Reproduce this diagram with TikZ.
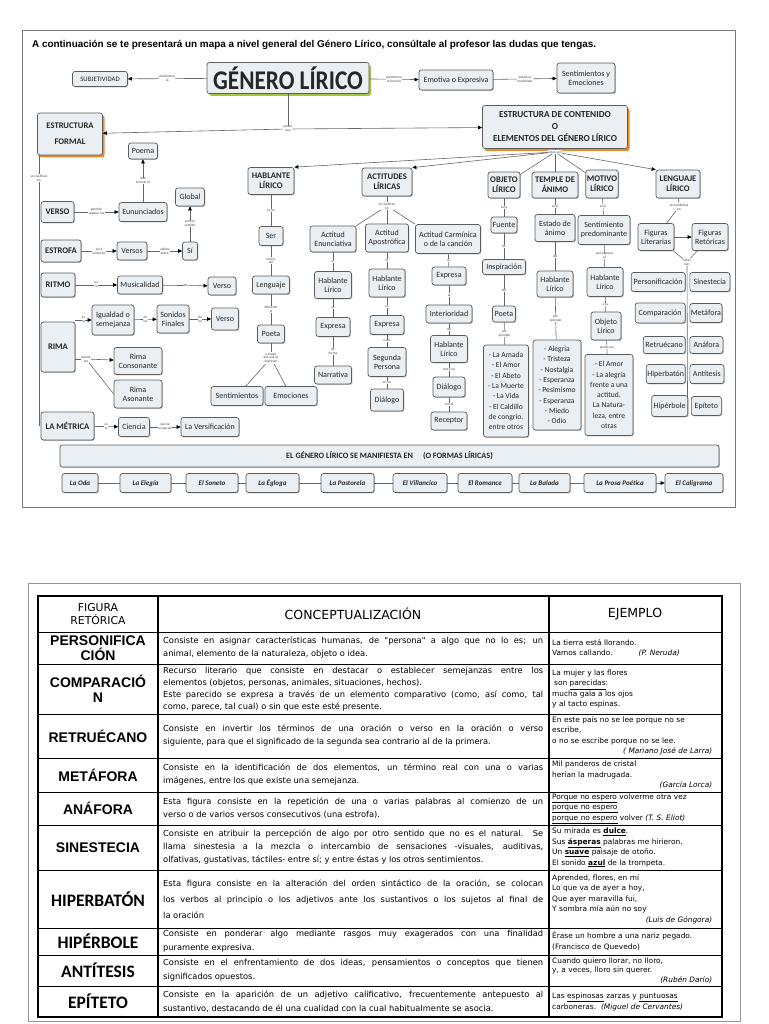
\documentclass[tikz,border=0pt]{standalone}
\usepackage{fontspec}
\setmainfont{Carlito}
\newfontfamily\arialf{Liberation Sans}
\newfontfamily\comicf{DejaVu Sans}
\usepackage{graphicx}
\usepackage{xcolor}
\usepackage{tikz}
\usetikzlibrary{arrows.meta,positioning,shadows}

\definecolor{cfill}{HTML}{E9EFF3}
\definecolor{cline}{HTML}{5C5C5C}
\definecolor{greensh}{HTML}{A3C63C}
\definecolor{orangesh}{HTML}{EE8A2A}
\definecolor{framec}{HTML}{7A7A7A}

\begin{document}
\begin{tikzpicture}[
  x=1pt, y=-1pt,
  sz/.style 2 args={minimum width=#1pt, minimum height=#2pt},
  box/.style={draw=cline, fill=cfill, rounded corners=2.5pt, line width=0.7pt, align=center, inner sep=1pt, text=black!85, font=\fontsize{8}{9}\selectfont},
  concept/.style={box, drop shadow={shadow xshift=0.9pt, shadow yshift=-0.9pt, fill=black!45, opacity=0.6}},
  head/.style={concept, font=\bfseries\fontsize{8.6}{10}\selectfont},
  lista/.style={concept, font=\fontsize{7.6}{10.3}\selectfont},
  form/.style={concept, minimum height=19pt, text height=5.5pt, text depth=1.5pt, font=\bfseries\itshape\fontsize{7}{8}\selectfont},
  lbl/.style={fill=white, inner sep=0.4pt, align=center, text=black!75, font=\fontsize{3.5}{3.9}\selectfont},
  lnk/.style={draw=black!60, line width=0.6pt},
  arr/.style={lnk, -{Triangle[length=4pt, width=3.6pt, color=black]}},
  figname/.style={inner sep=0pt, align=center, font=\arialf\bfseries\fontsize{14}{15}\selectfont},
  figname2/.style={inner sep=0pt, align=center, font=\bfseries\fontsize{17.5}{18}\selectfont},
  defn/.style={anchor=west, inner sep=0pt, text width=380pt, align=justify, font=\comicf\fontsize{8.3}{13}\selectfont},
  ejem/.style={anchor=west, inner sep=0pt, text width=166pt, align=left, font=\comicf\fontsize{7.4}{10.5}\selectfont},
  thead/.style={inner sep=0pt, align=center, font=\comicf\fontsize{12.5}{13}\selectfont}
]
\useasboundingbox (0,0) rectangle (768,1024);

% ---------------- mapa ----------------
\draw[framec, line width=0.8pt] (22,30) rectangle (735,507);
\node[anchor=west, inner sep=0pt, font=\arialf\bfseries\fontsize{9.9}{11}\selectfont] (titulo) at (32,45) {A continuación se te presentará un mapa a nivel general del Género Lírico, consúltale al profesor las dudas que tengas.};

\node[box, sz={162}{31}, drop shadow={shadow xshift=2pt, shadow yshift=-2.5pt, fill=greensh, opacity=1}] (genero) at (288,78) {\scalebox{0.86}[1]{\bfseries\fontsize{27}{27}\selectfont GÉNERO LÍRICO}};
\node[concept, sz={55}{15}, font=\fontsize{6.8}{7}\selectfont] (subj) at (100,79) {SUBJETIVIDAD};
\node[concept, sz={74}{20}] (emotiva) at (456,80) {Emotiva o Expresiva};
\node[concept, sz={58}{30}] (sentemo) at (586,78) {Sentimientos y\\Emociones};
\draw[arr] (genero) -- node[lbl] (lpred) {predomina\\la} (subj);
\draw[arr] (genero) -- node[lbl] (lfuncion) {predomina\\la función} (emotiva);
\draw[arr] (emotiva) -- node[lbl] (lmanif) {puede se\\manifestar} (sentemo);

\node[box, sz={65}{42}, font=\bfseries\fontsize{8.6}{9}\selectfont, drop shadow={shadow xshift=2pt, shadow yshift=-2.5pt, fill=orangesh, opacity=1}] (formal) at (70,134) {ESTRUCTURA\\[7pt]FORMAL};
\node[box, sz={145}{43}, font=\bfseries\fontsize{9.2}{12}\selectfont, drop shadow={shadow xshift=2pt, shadow yshift=-2.5pt, fill=orangesh, opacity=1}] (contenido) at (555,127) {ESTRUCTURA DE CONTENIDO\\O\\ELEMENTOS DEL GÉNERO LÍRICO};
\node[lbl] (posee) at (288,129) {posee\\una};
\draw[lnk] (genero) -- (posee);
\draw[arr] (posee) -- (formal);
\draw[arr] (posee) -- (contenido);

% estructura formal
\node[lbl] (lclasif) at (39,178) {se clasifican\\en};
\coordinate (troncofin) at (39,426);
\draw[lnk] (formal.south -| lclasif) -- (lclasif) -- (troncofin);

\node[head, sz={33}{21}] (verso) at (57.5,212) {VERSO};
\node[concept, sz={48}{19}] (eun) at (143,212) {Eununciados};
\node[concept, sz={29}{16}] (poema) at (143,151) {Poema};
\node[head, sz={40}{22}] (estrofa) at (61,251) {ESTROFA};
\node[concept, sz={30}{18}] (versos) at (132,251) {Versos};
\node[concept, sz={15}{18}] (si) at (190,251) {Sí};
\node[concept, sz={29}{18}] (global) at (190,197) {Global};
\node[head, sz={34}{24}] (ritmo) at (58,285) {RITMO};
\node[concept, sz={45}{18}] (musical) at (140,285) {Musicalidad};
\node[concept, sz={28}{18}] (versob) at (222,286) {Verso};
\node[head, sz={34}{50}] (rima) at (58,347) {RIMA};
\node[concept, sz={42}{30}] (igual) at (113,320) {Igualdad o\\semejanza};
\node[concept, sz={32}{28}] (sonidos) at (173,319) {Sonidos\\Finales};
\node[concept, sz={27}{22}] (versoc) at (225,319) {Verso};
\node[concept, sz={48}{27}] (consonante) at (138,361) {Rima\\Consonante};
\node[concept, sz={48}{28}] (asonante) at (138,394) {Rima\\Asonante};
\node[head, sz={53}{28}] (metrica) at (67.5,426) {LA MÉTRICA};
\node[concept, sz={31}{19}] (ciencia) at (134,427) {Ciencia};
\node[concept, sz={58}{19}] (versif) at (210,427) {La Versificación};

\draw[arr] (verso) -- node[lbl] (lsepara) {permite\\separar los} (eun);
\draw[arr] (eun) -- node[lbl] (lforman) {que\\forman el} (poema);
\draw[arr] (estrofa) -- node[lbl] (lunion) {es la\\unión de} (versos);
\draw[arr] (versos) -- node[lbl] (lunidos) {unidos\\entre} (si);
\draw[arr] (si) -- node[lbl] (lsentido) {por un\\sentido} (global);
\draw[arr] (ritmo) -- node[lbl] (lritmo) {es\\la} (musical);
\draw[arr] (musical) -- node[lbl] (ldel) {del} (versob);
\draw[arr] (igual.west -| rima.east) -- node[lbl] (lrima) {es\\la} (igual);
\draw[arr] (igual) -- node[lbl] (llos) {de\\los} (sonidos);
\draw[arr] (sonidos) -- node[lbl] (lun) {de\\un} (versoc);
\node[lbl] (lpuede) at (86,359) {puede\\ser};
\draw[lnk] (lpuede -| rima.east) -- (lpuede);
\draw[arr] (lpuede) -- (consonante);
\draw[lnk] (lpuede) -- (asonante.west);
\draw[arr] (metrica) -- node[lbl] (lmetrica) {es\\la} (ciencia);
\draw[arr] (ciencia) -- node[lbl] (locupa) {que se\\ocupa de} (versif);

% elementos del genero lirico
\node[head, sz={46}{27}] (hablante) at (271,181) {HABLANTE\\LÍRICO};
\node[head, sz={50}{28}] (actitudes) at (387,182) {ACTITUDES\\LÍRICAS};
\node[head, sz={32}{26}] (objeto) at (504,185) {OBJETO\\LÍRICO};
\node[head, sz={46}{26}] (temple) at (555,185) {TEMPLE DE\\ÁNIMO};
\node[head, sz={32}{28}] (motivo) at (602,184) {MOTIVO\\LÍRICO};
\node[head, sz={44}{28}] (lenguajel) at (678,184) {LENGUAJE\\LÍRICO};
\node[lbl] (lestos) at (555,152) {estos son};
\draw[lnk] (contenido) -- (lestos);
\draw[arr] (lestos) -- (hablante.north east);
\draw[arr] (lestos) -- (actitudes.north east);
\draw[lnk] (lestos) -- (objeto);
\draw[lnk] (lestos) -- (temple);
\draw[lnk] (lestos) -- (motivo);
\draw[arr] (lestos) -- (lenguajel.north west);

% hablante lirico
\node[concept, sz={24}{19}] (ser) at (271,236) {Ser};
\node[concept, sz={37}{18}] (lenguaje) at (271,285) {Lenguaje};
\node[concept, sz={27}{18}] (poeta) at (271,334) {Poeta};
\node[concept, sz={52}{19}] (sentim) at (237,396) {Sentimientos};
\node[concept, sz={52}{19}] (emoc) at (291,396) {Emociones};
\draw[lnk] (hablante) -- node[lbl] (lesun) {es un} (ser);
\draw[lnk] (ser) -- node[lbl] (lhecho) {hecho\\del} (lenguaje);
\draw[lnk] (lenguaje) -- node[lbl] (ldiferente) {diferente\\al} (poeta);
\node[lbl] (ltraves) at (271,358) {a través\\del cual se\\expresan};
\draw[lnk] (poeta) -- (ltraves);
\draw[lnk] (ltraves) -- (sentim);
\draw[lnk] (ltraves) -- (emoc);

% actitudes liricas
\node[lbl] (lclasif2) at (387,206) {se clasifican\\en};
\node[concept, sz={46}{26}] (enunc) at (333,239) {Actitud\\Enunciativa};
\node[concept, sz={43}{28}] (apost) at (387,238) {Actitud\\Apostrófica};
\node[concept, sz={65}{29}] (carmin) at (448,239) {Actitud Carmínica\\o de la canción};
\draw[lnk] (actitudes) -- (lclasif2);
\draw[lnk] (lclasif2) -- (enunc.north east);
\draw[lnk] (lclasif2) -- (apost);
\draw[lnk] (lclasif2) -- (carmin.north west);

\node[concept, sz={37}{27}] (hab1) at (333,285) {Hablante\\Lírico};
\node[concept, sz={34}{19}] (expr1) at (333,327) {Expresa};
\node[concept, sz={37}{18}] (narr) at (333,375) {Narrativa};
\draw[lnk] (enunc) -- node[lbl] (lel1) {el} (hab1);
\draw[lnk] (hab1) -- node[lbl] (lse1) {se} (expr1);
\draw[lnk] (expr1) -- node[lbl] (lforma) {de\\forma} (narr);

\node[concept, sz={36}{28}] (hab2) at (387,283) {Hablante\\Lírico};
\node[concept, sz={34}{19}] (expr2) at (387,325) {Expresa};
\node[concept, sz={38}{29}] (segunda) at (387,362) {Segunda\\Persona};
\node[concept, sz={33}{22}] (dial1) at (387,400) {Diálogo};
\draw[lnk] (apost) -- node[lbl] (lel2) {el} (hab2);
\draw[lnk] (hab2) -- node[lbl] (lse2) {se} (expr2);
\draw[lnk] (expr2) -- node[lbl] (launa) {a una} (segunda);
\draw[lnk] (segunda) -- node[lbl] (lenun) {en un} (dial1);

\node[concept, sz={34}{18}] (expr3) at (449,276) {Expresa};
\node[concept, sz={46}{18}] (interior) at (449,314) {Interioridad};
\node[concept, sz={37}{27}] (hab3) at (449,349) {Hablante\\Lírico};
\node[concept, sz={32}{20}] (dial2) at (449,387) {Diálogo};
\node[concept, sz={36}{18}] (receptor) at (449,421) {Receptor};
\draw[lnk] (carmin) -- node[lbl] (lse3) {se} (expr3);
\draw[lnk] (expr3) -- node[lbl] (lla) {la} (interior);
\draw[lnk] (interior) -- node[lbl] (ldel3) {del} (hab3);
\draw[lnk] (hab3) -- node[lbl] (lentre) {entre un} (dial2);
\draw[lnk] (dial2) -- node[lbl] (lconel) {con el} (receptor);

% objeto lirico
\node[concept, sz={26}{16}] (fuente) at (504,225) {Fuente};
\node[concept, sz={43}{15}] (inspir) at (504,267) {Inspiración};
\node[concept, sz={23}{16}] (poetab) at (504,314) {Poeta};
\node[lista, sz={45}{92}] (objlista) at (506,391) {- La Amada\\- El Amor\\- El Abeto\\- La Muerte\\- La Vida\\- El Caldillo\\de congrio.\\entre otros};
\draw[lnk] (objeto) -- node[lbl] (lesla) {es la} (fuente);
\draw[lnk] (fuente) -- node[lbl] (lde) {de} (inspir);
\draw[lnk] (inspir) -- node[lbl] (ldel4) {del} (poetab);
\draw[lnk] (poetab) -- node[lbl] (lejem1) {por\\ejemplo} (objlista);

% temple de animo
\node[concept, sz={40}{27}] (estado) at (555,228) {Estado de\\ánimo};
\node[concept, sz={36}{26}] (hab4) at (555,284) {Hablante\\Lírico};
\node[lista, sz={48}{90}] (templista) at (557,385) {- Alegría\\- Tristeza\\- Nostalgia\\- Esperanza\\- Pesimismo\\- Esperanza\\- Miedo\\- Odio};
\draw[lnk] (temple) -- node[lbl] (lesel1) {es el} (estado);
\draw[lnk] (estado) -- node[lbl] (ldel5) {del} (hab4);
\draw[lnk] (hab4) -- node[lbl] (lejem2) {por\\ejemplo} (templista);

% motivo lirico
\node[concept, sz={52}{29}] (sentpre) at (604,230) {Sentimiento\\predominante};
\node[concept, sz={36}{29}] (hab5) at (605,282) {Hablante\\Lírico};
\node[concept, sz={30}{28}] (objl) at (606,326) {Objeto\\Lírico};
\node[lista, sz={48}{81}] (motlista) at (609,395) {- El Amor\\- La alegría\\frente a una\\actitud.\\La Natura-\\leza, entre\\otras};
\draw[lnk] (motivo) -- node[lbl] (lesel2) {es el} (sentpre);
\draw[lnk] (sentpre) -- node[lbl] (lexpresa) {que expresa\\el} (hab5);
\draw[lnk] (hab5) -- node[lbl] (lasu) {a su} (objl);
\draw[lnk] (objl) -- node[lbl] (lpuedeser) {puede ser} (motlista);

% lenguaje lirico
\node[lbl] (lmanifiesta) at (679,207) {se manifiesta\\en};
\node[concept, sz={36}{27}] (figlit) at (656,237) {Figuras\\Literarias};
\node[concept, sz={36}{27}] (figret) at (710,237) {Figuras\\Retóricas};
\draw[lnk] (lenguajel) -- (lmanifiesta);
\draw[lnk] (lmanifiesta) -- (figlit);
\draw[arr] (figlit) -- (figret);
\node[lbl] (lestas) at (687,262) {estas\\son};
\draw[lnk] (figlit) -- (lestas);
\draw[lnk] (figret) -- (lestas);
\coordinate (figfin) at (687.5,398);
\draw[lnk] (lestas) -- (figfin);

\node[concept, sz={54}{19}, anchor=east] (pers) at (685.5,282) {Personificación};
\node[concept, sz={40}{19}, anchor=west] (sines) at (689.5,282) {Sinestecia};
\node[concept, sz={50}{20}, anchor=east] (compar) at (685.5,313) {Comparación};
\node[concept, sz={32}{19}, anchor=west] (metaf) at (689.5,313) {Metáfora};
\node[concept, sz={42}{17}, anchor=east] (retru) at (685.5,345) {Retruécano};
\node[concept, sz={33}{17}, anchor=west] (anaf) at (689.5,345) {Anáfora};
\node[concept, sz={39}{19}, anchor=east] (hiperb) at (685.5,374) {Hiperbatón};
\node[concept, sz={34}{19}, anchor=west] (antit) at (689.5,374) {Antítesis};
\node[concept, sz={36}{21}, anchor=east] (hiperbo) at (688,406) {Hipérbole};
\node[concept, sz={30}{19}, anchor=west] (epit) at (691,406) {Epíteto};

% formas liricas
\node[concept, sz={659}{22}, font=\bfseries\fontsize{8.2}{9}\selectfont] (formas) at (389.5,456) {EL GÉNERO LÍRICO SE MANIFIESTA EN \quad(O FORMAS LÍRICAS)};
\node[form, minimum width=36pt] (oda) at (80,483) {La Oda};
\node[form, minimum width=51pt] (elegia) at (145.5,483) {La Elegía};
\node[form, minimum width=52pt] (soneto) at (212,483) {El Soneto};
\node[form, minimum width=53pt] (egloga) at (272.5,483) {La Égloga};
\node[form, minimum width=53pt] (pastorela) at (347.5,483) {La Pastorela};
\node[form, minimum width=54pt] (villancico) at (420,483) {El Villancico};
\node[form, minimum width=54pt] (romance) at (485,483) {El Romance};
\node[form, minimum width=51pt] (balada) at (544.5,483) {La Balada};
\node[form, minimum width=72pt] (prosa) at (620,483) {La Prosa Poética};
\node[form, minimum width=58pt] (caligrama) at (694,483) {El Caligrama};
\draw[lnk] (oda) -- (elegia);
\draw[lnk] (elegia) -- (soneto);
\draw[lnk] (soneto) -- (egloga);
\draw[lnk] (egloga) -- (pastorela);
\draw[lnk] (pastorela) -- (villancico);
\draw[lnk] (villancico) -- (romance);
\draw[lnk] (romance) -- (balada);
\draw[lnk] (balada) -- (prosa);
\draw[arr] (prosa) -- (caligrama);

% ---------------- tabla ----------------
\draw[framec!80, line width=0.8pt] (28,583) rectangle (740,1021);
\draw[line width=1.8pt] (38,596) rectangle (722,1017);
\foreach \y in {632,664,714,758,792,825,870,928,955,986}
  \draw[line width=1pt] (38,\y) -- (722,\y);
\draw[line width=1.2pt] (158,596) -- (158,1017);
\draw[line width=1.2pt] (549,596) -- (549,1017);

\node[thead, font=\comicf\fontsize{10.8}{12.5}\selectfont] (hfigura) at (98,614) {FIGURA\\RETÓRICA};
\node[thead] (hconcepto) at (353,614) {CONCEPTUALIZACIÓN};
\node[thead] (hejemplo) at (635,614) {EJEMPLO};

\node[figname] (f1) at (98,648) {PERSONIFICA\\CIÓN};
\node[defn] (d1) at (163,648) {Consiste en asignar características humanas, de "persona" a algo que no lo es; un\linebreak animal, elemento de la naturaleza, objeto o idea.};
\node[ejem] (e1) at (552,648) {La tierra está llorando.\\Vamos callando.\hspace{26pt}\textit{(P. Neruda)}};

\node[figname] (f2) at (98,689) {COMPARACIÓ\\N};
\node[defn, font=\comicf\fontsize{8.3}{12}\selectfont] (d2) at (163,689) {Recurso literario que consiste en destacar o establecer semejanzas entre los\linebreak elementos (objetos, personas, animales, situaciones, hechos).\\Este parecido se expresa a través de un elemento comparativo (como, así como, tal\linebreak como, parece, tal cual) o sin que este esté presente.};
\node[ejem] (e2) at (552,689) {La mujer y las flores\\\hspace*{2pt}son \underline{parecidas}:\\mucha gala a los ojos\\y al tacto espinas.};

\node[figname] (f3) at (98,736) {RETRUÉCANO};
\node[defn] (d3) at (163,736) {Consiste en invertir los términos de una oración o verso en la oración o verso\linebreak siguiente, para que el significado de la segunda sea contrario al de la primera.};
\node[ejem] (e3) at (552,736) {En este país no se lee porque no se\\escribe,\\o no se escribe porque no se lee.\\\makebox[160pt][r]{\textit{( Mariano José de Larra)}}};

\node[figname] (f4) at (98,775) {METÁFORA};
\node[defn] (d4) at (163,775) {Consiste en la identificación de dos elementos, un término real con una o varias\linebreak imágenes, entre los que existe una semejanza.};
\node[ejem] (e4) at (552,775) {Mil panderos de cristal\\herían la madrugada.\\\makebox[160pt][r]{\textit{(García Lorca)}}};

\node[figname] (f5) at (98,808.5) {ANÁFORA};
\node[defn] (d5) at (163,808.5) {Esta figura consiste en la repetición de una o varias palabras al comienzo de un\linebreak verso o de varios versos consecutivos (una estrofa).};
\node[ejem] (e5) at (552,808.5) {\underline{Porque no espero} volverme otra vez\\\underline{porque no espero}\\\underline{porque no espero} volver \textit{(T. S. Eliot)}};

\node[figname] (f6) at (98,847.5) {SINESTECIA};
\node[defn] (d6) at (163,847.5) {Consiste en atribuir la percepción de algo por otro sentido que no es el natural.\ \ Se\linebreak llama sinestesia a la mezcla o intercambio de sensaciones -visuales, auditivas,\linebreak olfativas, gustativas, táctiles- entre sí; y entre éstas y los otros sentimientos.};
\node[ejem] (e6) at (552,847.5) {Su mirada es \textbf{\underline{dulce}}.\\Sus \textbf{\underline{ásperas}} palabras me hirieron.\\Un \textbf{\underline{suave}} paisaje de otoño.\\El sonido \textbf{\underline{azul}} de la trompeta.};

\node[figname2] (f7) at (98,899) {HIPERBATÓN};
\node[defn, font=\comicf\fontsize{8.3}{16}\selectfont] (d7) at (163,899) {Esta figura consiste en la alteración del orden sintáctico de la oración, se colocan\linebreak los verbos al principio o los adjetivos ante los sustantivos o los sujetos al final de\linebreak la oración};
\node[ejem] (e7) at (552,899) {Aprended, flores, en mí\\Lo que va de ayer a hoy,\\Que ayer maravilla fui,\\Y sombra mía aún no soy\\\makebox[160pt][r]{\textit{(Luis de Góngora)}}};

\node[figname2] (f8) at (98,941.5) {HIPÉRBOLE};
\node[defn, font=\comicf\fontsize{8.3}{14}\selectfont] (d8) at (163,941.5) {Consiste en ponderar algo mediante rasgos muy exagerados con una finalidad\linebreak puramente expresiva.};
\node[ejem, font=\comicf\fontsize{7.4}{11}\selectfont] (e8) at (552,941.5) {Érase un hombre a una nariz pegado.\\(Francisco de Quevedo)};

\node[figname2] (f9) at (98,970.5) {ANTÍTESIS};
\node[defn, font=\comicf\fontsize{8.3}{14}\selectfont] (d9) at (163,970.5) {Consiste en el enfrentamiento de dos ideas, pensamientos o conceptos que tienen\linebreak significados opuestos.};
\node[ejem, font=\comicf\fontsize{7.4}{9.5}\selectfont] (e9) at (552,970.5) {Cuando quiero llorar, no lloro,\\y, a veces, lloro sin querer.\\\makebox[160pt][r]{\textit{(Rubén Darío)}}};

\node[figname2] (f10) at (98,1001.5) {EPÍTETO};
\node[defn, font=\comicf\fontsize{8.3}{14}\selectfont] (d10) at (163,1001.5) {Consiste en la aparición de un adjetivo calificativo, frecuentemente antepuesto al\linebreak sustantivo, destacando de él una cualidad con la cual habitualmente se asocia.};
\node[ejem, font=\comicf\fontsize{7.4}{11}\selectfont] (e10) at (552,1001.5) {Las \underline{espinosas} zarzas y \underline{puntuosas}\\carboneras.\ \ \textit{(Miguel de Cervantes)}};
\end{tikzpicture}
\end{document}
